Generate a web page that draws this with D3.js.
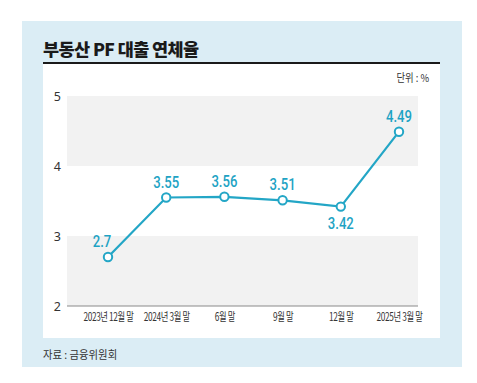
<!DOCTYPE html>
<html><head><meta charset="utf-8">
<script src="https://cdn.jsdelivr.net/npm/d3@7"></script>
<style>html,body{margin:0;padding:0;background:#fff;}svg{display:block;}</style>
</head><body>
<svg id="c" width="477" height="383"></svg>
<script>
const categories = ["2023년 12월 말","2024년 3월 말","6월 말","9월 말","12월 말","2025년 3월 말"];
const values = [2.7, 3.55, 3.56, 3.51, 3.42, 4.49];
const yTicks = [2, 3, 4, 5];
const title = "부동산 PF 대출 연체율";
const unitText = "단위 : %";
const sourceText = "자료 : 금융위원회";

const svg = d3.select("#c");
const blue = "#dbedf5", lineC = "#23a6c6", labelC = "#1ea3c4";
const font = "'Noto Sans CJK KR','Noto Sans',sans-serif";

svg.append("rect").attr("x",22).attr("y",21).attr("width",440).attr("height",346).attr("fill",blue);
svg.append("rect").attr("x",43).attr("y",63).attr("width",397).attr("height",275).attr("fill","#fff");
svg.append("line").attr("x1",43).attr("x2",440).attr("y1",63).attr("y2",63).attr("stroke","#1a1a1a").attr("stroke-width",2);
svg.append("text").attr("x",43).attr("y",56).text(title)
  .attr("font-family",font).attr("font-weight",900).attr("font-size",17.5).attr("fill","#1a1a1a").attr("letter-spacing",-0.6);
svg.append("text").attr("transform","translate(429,82) scale(0.85,1)").attr("text-anchor","end").text(unitText)
  .attr("font-family",font).attr("font-size",11).attr("fill","#333");
svg.append("text").attr("transform","translate(43,359) scale(0.9,1)").text(sourceText)
  .attr("font-family",font).attr("font-size",11.5).attr("fill","#333");

const left = 67, right = 418;
const y = d3.scaleLinear().domain([2,5]).range([306,96]);
const x = d3.scalePoint().domain(categories).range([108,399]);

// bands
const bands = [[4,5],[2,3]];
svg.append("g").selectAll("rect").data(bands).join("rect")
  .attr("x",left).attr("width",right-left)
  .attr("y",d=>y(d[1])).attr("height",d=>y(d[0])-y(d[1])).attr("fill","#f2f2f2");

// y axis labels
const ya = svg.append("g").attr("transform",`translate(${left},0)`)
  .call(d3.axisLeft(y).tickValues(yTicks).tickSize(0).tickPadding(6).tickFormat(d3.format("d")));
ya.select(".domain").remove();
ya.selectAll("text").attr("font-family","'Noto Sans',sans-serif").attr("font-size",12.5).attr("fill","#333");

// x axis
const xa = svg.append("g").attr("transform","translate(0,306)")
  .call(d3.axisBottom(x).tickSize(0).tickPadding(7));
xa.select(".domain").attr("d",`M${left},0H${right}`).attr("stroke","#8a8a8a").attr("stroke-width",1.2);
xa.selectAll("text").attr("font-family",font).attr("font-size",11.5).attr("fill","#333")
  .attr("letter-spacing",-0.5).attr("transform","scale(0.72,1)");

// line
svg.append("path").datum(values)
  .attr("d",d3.line().x((d,i)=>x(categories[i])).y(d=>y(d)))
  .attr("fill","none").attr("stroke",lineC).attr("stroke-width",2.2);
svg.append("g").selectAll("circle").data(values).join("circle")
  .attr("cx",(d,i)=>x(categories[i])).attr("cy",d=>y(d)).attr("r",4.2)
  .attr("fill","#fff").attr("stroke",lineC).attr("stroke-width",2);

// labels
svg.append("g").selectAll("text").data(values).join("text")
  .attr("transform",(d,i)=>`translate(${x(categories[i]) + (i===0?-6:0)},${i===4 ? y(d)+22 : y(d)-10}) scale(0.82,1)`)
  .attr("text-anchor","middle").text(d=>d)
  .attr("font-family","Roboto,'Noto Sans',sans-serif").attr("font-weight",500).attr("font-size",16).attr("fill",labelC);
</script>
</body></html>
